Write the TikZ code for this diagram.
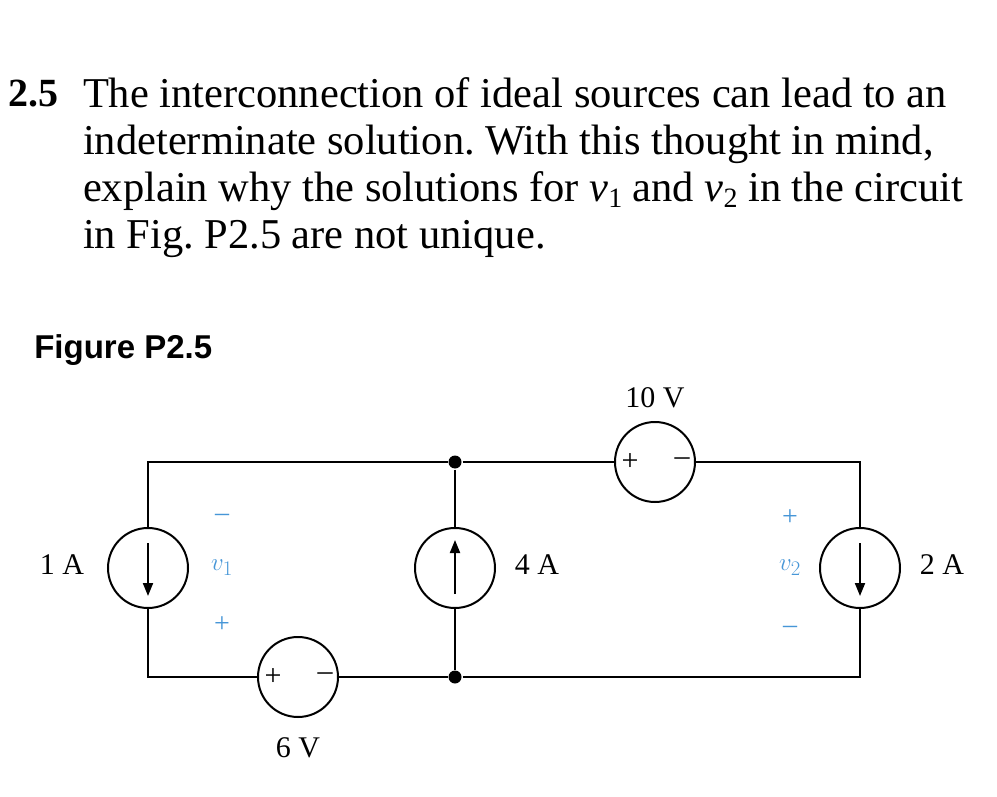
\documentclass[tikz,border=0pt]{standalone}
\usepackage{fontspec}
\setmainfont{Liberation Serif}
\newfontfamily\figfont{Liberation Sans}
\usetikzlibrary{arrows.meta}
\definecolor{vblue}{RGB}{70,150,215}
\begin{document}
\begin{tikzpicture}[x=1pt,y=-1pt,line width=2pt,
  src/.style={circle,draw,minimum size=80pt,inner sep=0pt},
  dot/.style={circle,fill,inner sep=0pt,minimum size=13pt},
  lab/.style={font=\fontsize{30}{30}\selectfont},
  pol/.style={font=\fontsize{28}{28}\selectfont,text=vblue},
  arr/.style={-{Triangle[length=13pt,width=10pt]},line width=2pt}]
\useasboundingbox (0,0) rectangle (997,797);
\node[anchor=base west,inner sep=0pt,font=\fontsize{40}{40}\selectfont\bfseries] (num) at (8,107) {2.5};
\node[anchor=base west,align=left,inner sep=0pt,font=\fontsize{42.5}{47}\selectfont\frenchspacing] (txt) at (82,248)
{The interconnection of ideal sources can lead to an\\
indeterminate solution. With this thought in mind,\\
explain why the solutions for \textit{v}\raisebox{-6pt}{\fontsize{28}{28}\selectfont1} and \textit{v}\raisebox{-6pt}{\fontsize{28}{28}\selectfont2} in the circuit\\
in Fig. P2.5 are not unique.};
\node[anchor=west,font=\figfont\bfseries\fontsize{33}{33}\selectfont] (fig) at (30,350) {Figure P2.5};
% wires
\coordinate (tl) at (148,462); \coordinate (tr) at (860,462);
\coordinate (bl) at (148,677); \coordinate (br) at (860,677);
\node[dot] (nt) at (455,462) {};
\node[dot] (nb) at (455,677) {};
\node[src] (s1) at (148,568) {};
\node[src] (s4) at (455,568) {};
\node[src] (s2) at (860,568) {};
\node[src] (s10) at (655,462) {};
\node[src] (s6) at (298,677) {};
\draw (s1.north) -- (tl) -- (nt) -- (s10.west);
\draw (s10.east) -- (tr) -- (s2.north);
\draw (s1.south) -- (bl) -- (s6.west);
\draw (s6.east) -- (nb) -- (br) -- (s2.south);
\draw (nt) -- (s4.north); \draw (s4.south) -- (nb);
% arrows
\draw[arr] (148,543) -- (148,596);
\draw[arr] (455,594) -- (455,540);
\draw[arr] (860,543) -- (860,596);
% source polarity
\node[lab] at (630,462) {+}; \node[lab] at (682,462) {--};
\node[lab] at (273,677) {+}; \node[lab] at (325,677) {--};
% labels
\node[lab] (l10) at (655,398) {10 V};
\node[lab] (l6) at (298,748) {6 V};
\node[lab] (l1) at (62,565) {1 A};
\node[lab] (l4) at (537,565) {4 A};
\node[lab] (l2) at (942,565) {2 A};
\node[pol] at (222,568) {$v_1$};
\node[pol] at (222,518) {--};
\node[pol] at (222,625) {+};
\node[pol] at (790,568) {$v_2$};
\node[pol] at (790,518) {+};
\node[pol] at (790,630) {--};
\end{tikzpicture}
\end{document}
